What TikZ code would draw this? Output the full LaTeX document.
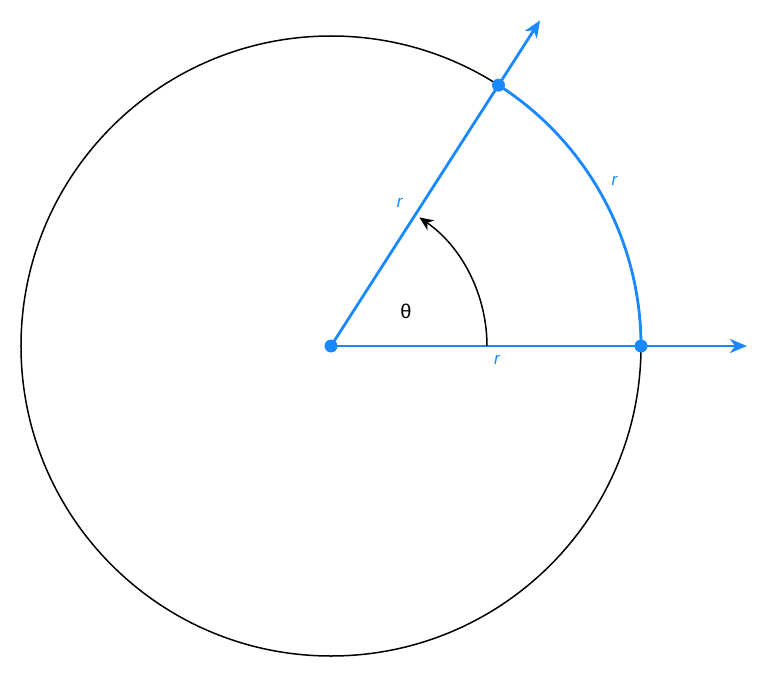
\documentclass[tikz,border=0pt]{standalone}
\usepackage{fontspec}
\setmainfont{Liberation Sans}
\usetikzlibrary{positioning, calc}
\usetikzlibrary{arrows.meta}

\definecolor{rayblue}{RGB}{26,136,255}

\tikzset{
    ray/.style = {draw=rayblue, line width=2.8pt},
    rayarrow/.style = {ray, -{Stealth[length=17pt, width=14pt, inset=5pt]}},
    dot/.style = {circle, fill=rayblue, inner sep=0pt, minimum size=13pt},
    rlabel/.style = {text=rayblue, font=\fontsize{17}{20}\selectfont\itshape, inner sep=0pt},
}

\begin{document}
\begin{tikzpicture}[x=1pt, y=1pt]
                \useasboundingbox (-331,-329) rectangle (437,346);
                % unit circle and the two radii
                \draw[line width=1.5pt] (0,0) circle (310);
                \coordinate (O) at (0,0);
                \coordinate (A) at (0:310);
                \coordinate (B) at (57.2958:310);
                \coordinate (Aend) at (0:416);
                \coordinate (Bend) at (57.2958:387);
                \draw[rayarrow] (O) -- (Aend);
                \draw[rayarrow] (O) -- (Bend);
                \draw[ray] (A) arc (0:57.2958:310);
                % angle
                \draw[line width=1.5pt, -{Stealth[length=14pt, width=12pt, inset=4.5pt]}] (156,0) arc (0:55.5:156);
                \node (theta) at (75,35) {\fontsize{20}{24}\selectfont θ};
                % labels r
                \node[rlabel] (rA) at (166,-14) {r};
                \node[rlabel] (rB) at ($(O)!0.5!(B)+(-15,13)$) {r};
                \node[rlabel] (rArc) at (30.2:328) {r};
                % points
                \node[dot] (pO) at (O) {};
                \node[dot] (pA) at (A) {};
                \node[dot] (pB) at (B) {};
            \end{tikzpicture}
\end{document}
